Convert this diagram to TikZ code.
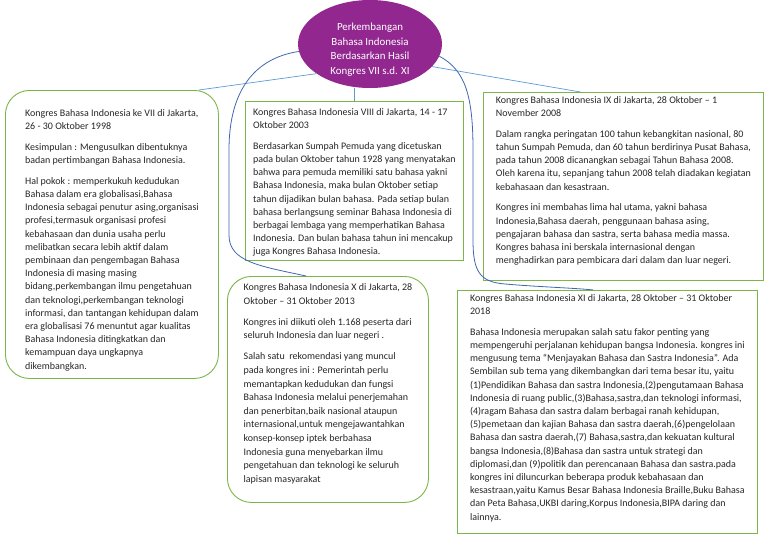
\documentclass[tikz,border=0pt]{standalone}
\usepackage{fontspec}
\setmainfont{Carlito}
\usetikzlibrary{shapes.geometric}

\definecolor{bubblepurple}{HTML}{92278F}
\definecolor{boxgreen}{HTML}{7AB648}
\definecolor{linkblue}{HTML}{5B9BD5}
\definecolor{curveblue}{HTML}{3F66AE}
\definecolor{textgray}{HTML}{262626}

\newcommand{\boxlines}[1]{\begin{tabular}[t]{@{}l@{}}#1\end{tabular}}

\tikzstyle{title_bubble} = [ellipse, minimum width=144pt, minimum height=88pt, inner sep=-3pt, text height=63pt, text depth=2.5pt, fill=bubblepurple, text=white, align=center, font=\fontsize{10.9}{14.5}\selectfont]
\tikzstyle{plain_box} = [rectangle, anchor=north west, draw=boxgreen, line width=0.9pt, inner xsep=2pt, inner ysep=5pt, text=textgray, font=\fontsize{10}{13.2}\selectfont]
\tikzstyle{round_box} = [plain_box, rounded corners=24pt]
\tikzstyle{line_link} = [draw=linkblue, line width=0.7pt]
\tikzstyle{curve_link} = [draw=curveblue, line width=0.8pt]

\begin{document}
\begin{tikzpicture}[x=1pt, y=-1pt]
        \useasboundingbox (0,0) rectangle (768,543);

        \node (title) [title_bubble] at (370,44) {Perkembangan\\Bahasa Indonesia\\Berdasarkan Hasil\\Kongres VII s.d. XI};

        \node (kongres_vii) [round_box, minimum width=213pt, text height=21pt, text depth=257pt] at (5,90) {\boxlines{Kongres Bahasa Indonesia ke VII di Jakarta,\\26 - 30 Oktober 1998\\[7.5pt]
        Kesimpulan : Mengusulkan dibentuknya\\badan pertimbangan Bahasa Indonesia.\\[7.5pt]
        Hal pokok : memperkukuh kedudukan\\Bahasa dalam era globalisasi,Bahasa\\Indonesia sebagai penutur asing,organisasi\\profesi,termasuk organisasi profesi\\kebahasaan dan dunia usaha perlu\\melibatkan secara lebih aktif dalam\\pembinaan dan pengembagan Bahasa\\Indonesia di masing masing\\bidang,perkembangan ilmu pengetahuan\\dan teknologi,perkembangan teknologi\\informasi, dan tantangan kehidupan dalam\\era globalisasi 76 menuntut agar kualitas\\Bahasa Indonesia ditingkatkan dan\\kemampuan daya ungkapnya\\dikembangkan.}};

        \node (kongres_viii) [plain_box, minimum width=218pt, text height=9pt, text depth=140pt] at (245,101) {\boxlines{Kongres Bahasa Indonesia VIII di Jakarta, 14 - 17\\Oktober 2003\\[7.5pt]
        Berdasarkan Sumpah Pemuda yang dicetuskan\\pada bulan Oktober tahun 1928 yang menyatakan\\bahwa para pemuda memiliki satu bahasa yakni\\Bahasa Indonesia, maka bulan Oktober setiap\\tahun dijadikan bulan bahasa. Pada setiap bulan\\bahasa berlangsung seminar Bahasa Indonesia di\\berbagai lembaga yang memperhatikan Bahasa\\Indonesia. Dan bulan bahasa tahun ini mencakup\\juga Kongres Bahasa Indonesia.}};

        \node (kongres_ix) [plain_box, minimum width=280pt, text height=6pt, text depth=172pt] at (483,92) {\boxlines{Kongres Bahasa Indonesia IX di Jakarta, 28 Oktober – 1\\November 2008\\[7.5pt]
        Dalam rangka peringatan 100 tahun kebangkitan nasional, 80\\tahun Sumpah Pemuda, dan 60 tahun berdirinya Pusat Bahasa,\\pada tahun 2008 dicanangkan sebagai Tahun Bahasa 2008.\\Oleh karena itu, sepanjang tahun 2008 telah diadakan kegiatan\\kebahasaan dan kesastraan.\\[7.5pt]
        Kongres ini membahas lima hal utama, yakni bahasa\\Indonesia,Bahasa daerah, penggunaan bahasa asing,\\pengajaran bahasa dan sastra, serta bahasa media massa.\\Kongres bahasa ini berskala internasional dengan\\menghadirkan para pembicara dari dalam dan luar negeri.}};

        \node (kongres_x) [round_box, minimum width=201pt, text height=9pt, text depth=207pt, font=\fontsize{10}{13.6}\selectfont] at (227,276) {\boxlines{Kongres Bahasa Indonesia X di Jakarta, 28\\Oktober – 31 Oktober 2013\\[7.5pt]
        Kongres ini diikuti oleh 1.168 peserta dari\\seluruh Indonesia dan luar negeri .\\[7.5pt]
        Salah satu~ rekomendasi yang muncul\\pada kongres ini : Pemerintah perlu\\memantapkan kedudukan dan fungsi\\Bahasa Indonesia melalui penerjemahan\\dan penerbitan,baik nasional ataupun\\internasional,untuk mengejawantahkan\\konsep-konsep iptek berbahasa\\Indonesia guna menyebarkan ilmu\\pengetahuan dan teknologi ke seluruh\\lapisan masyarakat}};

        \node (kongres_xi) [plain_box, minimum width=300pt, text height=6pt, text depth=227pt] at (457,290) {\boxlines{Kongres Bahasa Indonesia XI di Jakarta, 28 Oktober – 31 Oktober\\2018\\[7.5pt]
        Bahasa Indonesia merupakan salah satu fakor penting yang\\mempengeruhi perjalanan kehidupan bangsa Indonesia. kongres ini\\mengusung tema “Menjayakan Bahasa dan Sastra Indonesia”. Ada\\Sembilan sub tema yang dikembangkan dari tema besar itu, yaitu\\(1)Pendidikan Bahasa dan sastra Indonesia,(2)pengutamaan Bahasa\\Indonesia di ruang public,(3)Bahasa,sastra,dan teknologi informasi,\\(4)ragam Bahasa dan sastra dalam berbagai ranah kehidupan,\\(5)pemetaan dan kajian Bahasa dan sastra daerah,(6)pengelolaan\\Bahasa dan sastra daerah,(7) Bahasa,sastra,dan kekuatan kultural\\bangsa Indonesia,(8)Bahasa dan sastra untuk strategi dan\\diplomasi,dan (9)politik dan perencanaan Bahasa dan sastra.pada\\kongres ini diluncurkan beberapa produk kebahasaan dan\\kesastraan,yaitu Kamus Besar Bahasa Indonesia Braille,Buku Bahasa\\dan Peta Bahasa,UKBI daring,Korpus Indonesia,BIPA daring dan\\lainnya.}};

        \draw [line_link] (title.209) -- ([xshift=-20pt]kongres_vii.north east);
        \draw [curve_link] (title.186) .. controls (255,58) and (229,90) .. (229,150) -- (229,235) .. controls (229,262) and (260,266) .. ([xshift=-22pt]kongres_x.north);
        \draw [line_link] (kongres_viii.north) -- (kongres_viii.north |- title.south);
        \draw [line_link] (title.-20) -- ([xshift=-43pt]kongres_ix.north);
        \draw [curve_link] (title.-10) .. controls (465,70) and (473,95) .. (473,150) -- (473,240) .. controls (473,272) and (480,282) .. (505,284) .. controls (540,287) and (575,288) .. ([xshift=-14pt]kongres_xi.north);
    \end{tikzpicture}
\end{document}
